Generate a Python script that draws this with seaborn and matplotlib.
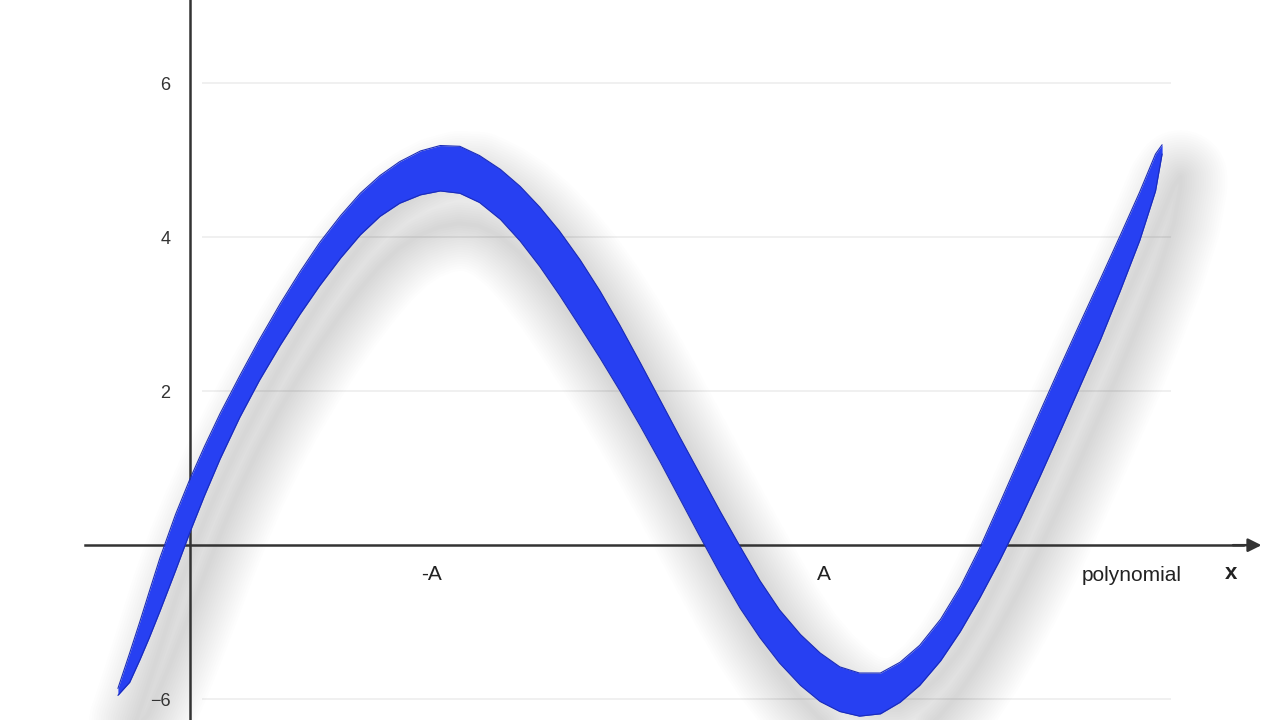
import numpy as np
import pandas as pd
import matplotlib
matplotlib.use("Agg")
import matplotlib.pyplot as plt
import seaborn as sns

# positions along x (data units, tick spacing = 1)
x_vals = [-0.39, -0.30, -0.22, -0.15, -0.07, 0.05, 0.16, 0.27, 0.39, 0.54,
          0.69, 0.85, 1.00, 1.15, 1.31, 1.46, 1.61, 1.76, 1.92, 2.07,
          2.22, 2.37, 2.53, 2.68, 2.83, 2.98, 3.14, 3.29, 3.44, 3.60,
          3.75, 3.90, 4.05, 4.21, 4.36, 4.51, 4.66, 4.82, 4.97, 5.12,
          5.27, 5.43, 5.58, 5.73, 5.89, 6.04, 6.19, 6.34, 6.50, 6.65,
          6.80, 6.95, 7.11, 7.26, 7.41, 7.53, 7.58]

# upper edge of the thick curve
upper_vals = [-1.86, -1.40, -0.98, -0.60, -0.17, 0.40, 0.86, 1.28, 1.71, 2.20,
              2.67, 3.14, 3.55, 3.93, 4.28, 4.57, 4.80, 4.98, 5.12, 5.19,
              5.18, 5.06, 4.88, 4.66, 4.39, 4.08, 3.70, 3.30, 2.86, 2.36,
              1.88, 1.40, 0.93, 0.43, -0.02, -0.46, -0.84, -1.16, -1.40, -1.58,
              -1.66, -1.66, -1.52, -1.30, -0.96, -0.54, -0.03, 0.54, 1.16, 1.74,
              2.31, 2.87, 3.46, 4.02, 4.59, 5.08, 5.20]

# lower edge of the thick curve
lower_vals = [-1.95, -1.78, -1.48, -1.20, -0.86, -0.33, 0.17, 0.64, 1.12, 1.66,
              2.14, 2.60, 3.00, 3.37, 3.73, 4.03, 4.27, 4.44, 4.55, 4.60,
              4.57, 4.45, 4.23, 3.95, 3.62, 3.25, 2.83, 2.43, 2.01, 1.54,
              1.08, 0.60, 0.12, -0.38, -0.82, -1.20, -1.53, -1.82, -2.03, -2.16,
              -2.22, -2.19, -2.04, -1.82, -1.50, -1.12, -0.68, -0.20, 0.35, 0.90,
              1.47, 2.05, 2.67, 3.30, 3.96, 4.60, 5.08]

y_ticks = [-2, 2, 4, 6]
y_tick_labels = ["\u22126", "2", "4", "6"]
y_minor = [-1, 1, 3, 5, 7]
x_ticks = [1, 2, 3, 4, 5, 6, 7]
x_tick_labels = ["", "-A", "", "", "A", "", ""]
grid_levels = [-2, 2, 4, 6]

df = pd.DataFrame({"x": x_vals, "upper": upper_vals, "lower": lower_vals})

sns.set_theme(style="white")
plt.rcParams["font.family"] = ["Liberation Sans", "DejaVu Sans"]

fig = plt.figure(figsize=(12.8, 7.2), dpi=100)
ax = fig.add_axes([0, 0, 1, 1])
ax.set_xlim(-1.29, 8.48)
ax.set_ylim(-2.27, 7.08)

# faint grid
ax.hlines(grid_levels, 0.25, 7.65, color="#eeeeee", lw=1.2, zorder=1)

# soft drop shadow: outline strokes of growing width, no filled core
xs = df["x"].to_numpy() + 0.14
lo = df["lower"].to_numpy() - 0.42
up = df["upper"].to_numpy() - 0.42
for k in range(20):
    ax.fill_between(xs, lo, up, facecolor="none", edgecolor="0.3",
                    alpha=0.0072, linewidth=3 + k * 3.4, joinstyle="round",
                    capstyle="round", zorder=2)

# thick blue band
ax.fill_between(df["x"], df["lower"], df["upper"], color="#2740f2", lw=0, zorder=4)
sns.lineplot(data=df, x="x", y="upper", ax=ax, color="#1b2cb8", lw=0.8,
             estimator=None, sort=False, zorder=5)
sns.lineplot(data=df, x="x", y="lower", ax=ax, color="#1b2cb8", lw=0.8,
             estimator=None, sort=False, zorder=5)
ax.set_xlabel("")
ax.set_ylabel("")

# axes through the origin
for side in ["top", "right"]:
    ax.spines[side].set_visible(False)
ax.spines["left"].set_position(("data", 0.16))
ax.spines["bottom"].set_position(("data", 0))
ax.spines["bottom"].set_bounds(-0.64, 8.2)
for side in ["left", "bottom"]:
    ax.spines[side].set_color("#333333")
    ax.spines[side].set_linewidth(1.8)
    ax.spines[side].set_zorder(3)
ax.annotate("", xy=(8.36, 0), xytext=(8.1, 0),
            arrowprops=dict(arrowstyle="-|>", color="#333333", lw=1.8,
                            mutation_scale=20))

ax.set_yticks(y_ticks)
ax.set_yticklabels(y_tick_labels)
ax.set_yticks(y_minor, minor=True)
ax.tick_params(axis="y", which="major", direction="out", length=6, width=1.3,
               color="#333333", labelsize=13, labelcolor="#333333", pad=8)
ax.tick_params(axis="y", which="minor", direction="out", length=4, width=1.2,
               color="#333333")
ax.set_xticks(x_ticks)
ax.set_xticklabels(x_tick_labels)
ax.tick_params(axis="x", which="major", direction="out", length=5, width=1.2,
               color="#333333", labelsize=15, labelcolor="#222222", pad=9)

ax.text(7.35, -0.39, "polynomial", fontsize=15, color="#222222",
        ha="center", va="center")
ax.text(8.11, -0.37, "x", fontsize=16, color="#222222", fontweight="bold",
        ha="center", va="center")

fig.savefig("out.png", dpi=100)
